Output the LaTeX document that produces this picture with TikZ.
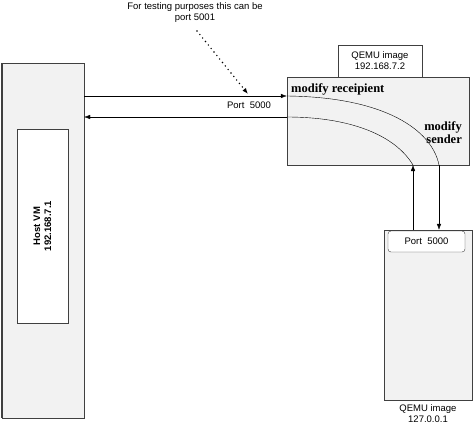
\documentclass[tikz,border=0pt]{standalone}
\usepackage{fontspec}
\setmainfont{Liberation Serif}
\setsansfont{Liberation Sans}
\usetikzlibrary{arrows.meta}
\definecolor{boxfill}{HTML}{F2F2F2}
\definecolor{edge}{HTML}{404040}
\begin{document}
\begin{tikzpicture}[x=1pt,y=-1pt,thin,
		>={Latex[length=6pt,width=4.5pt]},
		box/.style={draw=edge,fill=boxfill,inner sep=0pt},
		labelbox/.style={draw=edge,fill=white,inner sep=0pt,align=center,
			font=\sffamily\fontsize{9.5}{11}\selectfont},
		note/.style={align=center,font=\sffamily\fontsize{9.5}{11}\selectfont},
		modtext/.style={font=\bfseries\fontsize{12.5}{13}\selectfont,align=right}]
		\useasboundingbox (0,0) rectangle (474,426);
		
		% host side
		\node[box,minimum width=82pt,minimum height=355pt] (host) at (43,240.5) {};
		\draw[edge,line width=1pt] (host.north west) -- (host.south west);
		\node[labelbox,minimum width=51pt,minimum height=194pt] (hostvm) at (42.5,226) {};
		\node[note,rotate=90,font=\sffamily\bfseries\fontsize{9.5}{11}\selectfont] at (hostvm.center) {Host VM\\192.168.7.1};
		
		% qemu 192.168.7.2
		\node[box,minimum width=182pt,minimum height=88pt] (qemu) at (378,121) {};
		\node[labelbox,minimum width=84pt,minimum height=32pt] (qemuip) at (380,61) {QEMU image\\192.168.7.2};
		\node[modtext,anchor=north west,inner sep=0pt] (recv) at (291,83) {modify receipient};
		\node[modtext,anchor=north east,inner sep=0pt] (send) at (462,121) {modify\\sender};
		
		% qemu 127.0.0.1
		\node[box,minimum width=88pt,minimum height=170pt] (guest) at (428,315) {};
		\node[labelbox,rounded corners=3pt,minimum width=77pt,minimum height=21pt] (gport) at (426.5,241.5) {Port\ \ 5000};
		\node[note,below=1pt] (guestip) at (guest.south) {QEMU image\\127.0.0.1};
		
		% points of the two flows
		\coordinate (in1) at (qemu.west |- 0,96);
		\coordinate (out1) at (qemu.west |- 0,117);
		\coordinate (dn) at (439,165);
		\coordinate (up) at (413,165);
		
		\draw[->] (host.east |- in1) -- (in1);
		\draw (in1) .. controls (385,97) and (432,130) .. (dn);
		\draw[->] (dn) -- (dn |- guest.north);
		\draw[->] (up |- guest.north) -- (up);
		\draw (up) .. controls (395,135) and (350,117) .. (out1);
		\draw[->] (out1) -- (host.east |- out1);
		\node[note] (hport) at (249,105) {Port\ \ 5000};
		
		% note on the test port
		\node[note] (test) at (195,13) {For testing purposes this can be\\port 5001};
		\coordinate (tip) at (248,94);
		\draw[->,line width=1.6pt,line cap=round,dash pattern=on 0pt off 4.5pt] (197,31) -- (tip);
		\end{tikzpicture}
\end{document}
